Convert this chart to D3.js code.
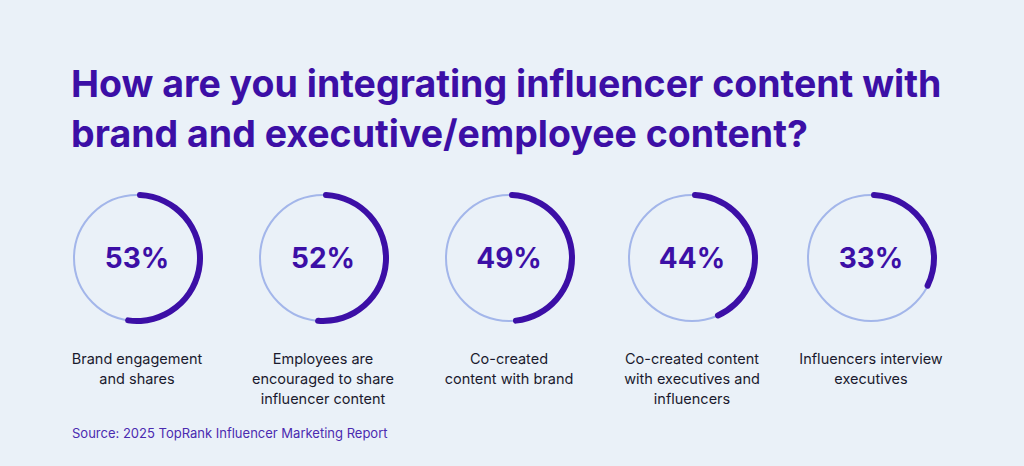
<!DOCTYPE html>
<html><head><meta charset="utf-8">
<script src="https://cdn.jsdelivr.net/npm/d3@7"></script>
<style>body{margin:0;background:#eaf1f8}</style></head>
<body><svg id="c" width="1024" height="466"></svg>
<script>
var values = [53, 52, 49, 44, 33];
var labels = [
  ["Brand engagement", "and shares"],
  ["Employees are", "encouraged to share", "influencer content"],
  ["Co-created", "content with brand"],
  ["Co-created content", "with executives and", "influencers"],
  ["Influencers interview", "executives"]
];
var centers = [137, 323, 509, 692, 871];

var svg = d3.select("#c");
svg.append("rect").attr("width", 1024).attr("height", 466).attr("fill", "#eaf1f8");
var purple = "#3c0fa6";

var title = ["How are you integrating influencer content with", "brand and executive/employee content?"];
svg.selectAll(".t").data(title).enter().append("text")
  .attr("x", 71).attr("y", (d, i) => 97 + i * 50)
  .attr("font-family", "Inter, 'Open Sans', sans-serif").attr("font-weight", 700)
  .attr("font-size", 37.5).attr("fill", purple).text(d => d);

var r = 63, cy = 258;
var arc = d3.arc().innerRadius(r - 3).outerRadius(r + 3).startAngle(0).cornerRadius(3);

values.forEach(function (v, i) {
  var g = svg.append("g").attr("transform", `translate(${centers[i]},${cy})`);
  g.append("circle").attr("r", r).attr("fill", "none").attr("stroke", "#a3b6ea").attr("stroke-width", 2);
  g.append("path").attr("d", arc({ endAngle: 2 * Math.PI * v / 100 })).attr("fill", purple);
  g.append("text").attr("y", 10).attr("text-anchor", "middle")
    .attr("font-family", "Inter, sans-serif").attr("font-weight", 700).attr("font-size", 28)
    .attr("fill", purple).text(v + "%");
  svg.selectAll(null).data(labels[i]).enter().append("text")
    .attr("x", centers[i]).attr("y", (d, j) => 364 + j * 20).attr("text-anchor", "middle")
    .attr("font-family", "Inter, sans-serif").attr("font-size", 14.5).attr("fill", "#1a1a2e").text(d => d);
});

svg.append("text").attr("x", 72).attr("y", 438)
  .attr("font-family", "Inter, sans-serif").attr("font-size", 13).attr("fill", "#4a2bb0")
  .text("Source: 2025 TopRank Influencer Marketing Report");
</script></body></html>
